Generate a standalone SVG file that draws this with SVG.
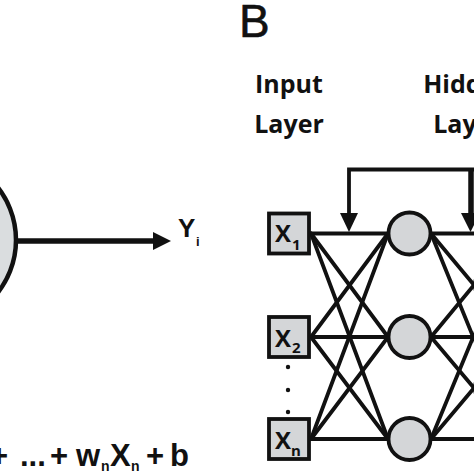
<svg xmlns="http://www.w3.org/2000/svg" width="474" height="474" viewBox="0 0 474 474">
<style>
.ln{stroke:#111;stroke-width:3.8;fill:none;stroke-linecap:round}
.nd{fill:#d4d6d8;stroke:#111;stroke-width:3.8}
.lbl{font-family:"Open Sans","Liberation Sans",sans-serif;font-weight:700;fill:#111}
.fx{font-family:"Liberation Sans",Arial,sans-serif;font-weight:700;fill:#111}
.ah{fill:#111}
</style>
<rect width="474" height="474" fill="#fff"/>

<!-- Panel A -->
<g id="neuronA">
<circle cx="-69" cy="240" r="85" fill="#dadddf" stroke="#111" stroke-width="4.5"/>
</g>
<g id="outputA">
<text class="fx" x="178" y="237" font-size="26">Y</text>
<text class="fx" x="196" y="246" font-size="13">i</text>
</g>
<g id="formulaA">
<text class="fx" y="466" font-size="31"><tspan x="-10">+</tspan><tspan x="20">...</tspan><tspan x="50">+</tspan><tspan x="76">w</tspan><tspan x="101" y="471" font-size="14">n</tspan><tspan x="110" y="466" font-size="31">X</tspan><tspan x="131" y="471" font-size="14">n</tspan><tspan x="146" y="466">+</tspan><tspan x="170">b</tspan></text>
</g>

<!-- Panel B -->
<g id="labelB"><text x="239" y="37" font-family="Liberation Sans,Arial,sans-serif" font-size="46" fill="#111" stroke="#111" stroke-width="0.6">B</text></g>
<g id="inputLabel">
<text class="lbl" x="289" y="93" font-size="25" text-anchor="middle">Input</text>
<text class="lbl" x="289" y="133" font-size="25" text-anchor="middle">Layer</text>
</g>
<g id="hiddenLabel">
<text class="lbl" x="468" y="93" font-size="25" text-anchor="middle">Hidden</text>
<text class="lbl" x="468" y="133" font-size="25" text-anchor="middle">Layer</text>
</g>

<g id="connectors">
<line x1="18" y1="241" x2="156" y2="241" stroke="#111" stroke-width="5.5"/>
<polygon class="ah" points="153,232 171,241 153,250"/>
<!-- input to hidden -->
<g class="ln">
<line x1="311" y1="233.5" x2="388" y2="233.5"/>
<line x1="311" y1="233.5" x2="388" y2="337"/>
<line x1="311" y1="233.5" x2="388" y2="439"/>
<line x1="311" y1="337" x2="388" y2="233.5"/>
<line x1="311" y1="337" x2="388" y2="337"/>
<line x1="311" y1="337" x2="388" y2="439"/>
<line x1="311" y1="439" x2="388" y2="233.5"/>
<line x1="311" y1="439" x2="388" y2="337"/>
<line x1="311" y1="439" x2="388" y2="439"/>
<!-- hidden to next -->
<line x1="431" y1="233.5" x2="480" y2="233.5"/>
<line x1="431" y1="233.5" x2="474" y2="285"/>
<line x1="431" y1="233.5" x2="474" y2="339"/>
<line x1="431" y1="337" x2="474" y2="285"/>
<line x1="431" y1="337" x2="480" y2="337"/>
<line x1="431" y1="337" x2="474" y2="388"/>
<line x1="431" y1="439" x2="474" y2="335"/>
<line x1="431" y1="439" x2="474" y2="388"/>
<line x1="431" y1="439" x2="480" y2="439"/>
</g>
<!-- feedback loop -->
<polyline points="349,215 349,169.5 480,169.5" fill="none" stroke="#111" stroke-width="3.8"/>
<line x1="471" y1="169" x2="471" y2="215" stroke="#111" stroke-width="5.5"/>
<polygon class="ah" points="340,213 358,213 349,232"/>
<polygon class="ah" points="461,213 480,213 470.5,232"/>
</g>

<g id="x1"><rect class="nd" x="269" y="213.5" width="40" height="40"/>
<text class="lbl" x="275" y="242" font-size="24">X</text><text class="lbl" x="292" y="250" font-size="15">1</text></g>
<g id="x2"><rect class="nd" x="269" y="317" width="40" height="40"/>
<text class="lbl" x="275" y="347" font-size="24">X</text><text class="lbl" x="292" y="353" font-size="15">2</text></g>
<g id="dots"><circle cx="288" cy="367" r="2.2" fill="#111"/><circle cx="288" cy="390" r="2.2" fill="#111"/><circle cx="288" cy="412" r="2.2" fill="#111"/></g>
<g id="xn"><rect class="nd" x="269" y="419" width="40" height="40"/>
<text class="lbl" x="275" y="449" font-size="24">X</text><text class="lbl" x="291" y="456" font-size="15">n</text></g>

<g id="h1"><circle class="nd" cx="409.5" cy="233.5" r="21"/></g>
<g id="h2"><circle class="nd" cx="409.5" cy="337" r="21"/></g>
<g id="h3"><circle class="nd" cx="409.5" cy="439" r="21"/></g>
<g id="n1"><circle class="nd" cx="496" cy="285" r="21"/></g>
<g id="n2"><circle class="nd" cx="496" cy="337" r="21"/></g>
<g id="n3"><circle class="nd" cx="496" cy="388" r="21"/></g>
</svg>
